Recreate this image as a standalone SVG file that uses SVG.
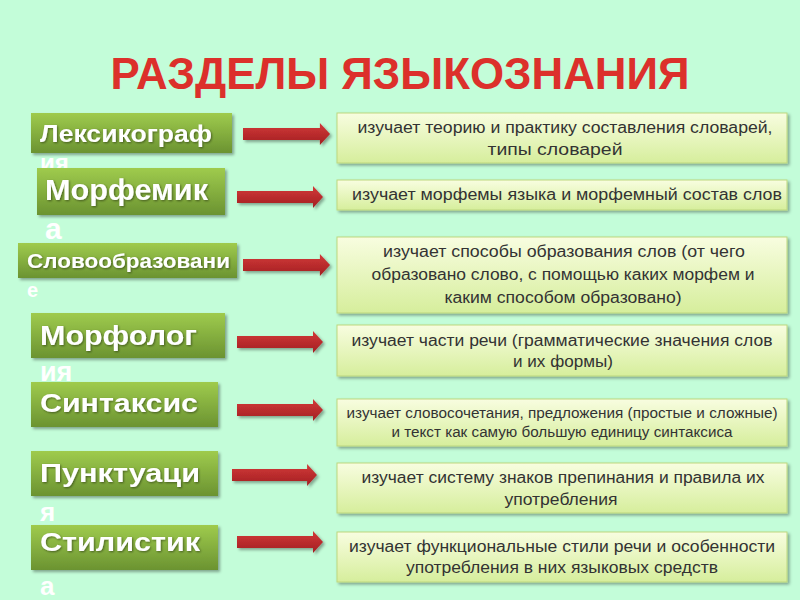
<svg xmlns="http://www.w3.org/2000/svg" xmlns:xlink="http://www.w3.org/1999/xlink" width="800" height="600" viewBox="0 0 800 600">
<defs>
<linearGradient id="gGreen" x1="0" y1="0" x2="0" y2="1">
<stop offset="0" stop-color="#9fcb4d"/>
<stop offset="1" stop-color="#6b9331"/>
</linearGradient>
<linearGradient id="gLight" x1="0" y1="0" x2="0" y2="1">
<stop offset="0" stop-color="#f8fde0"/>
<stop offset="1" stop-color="#d6ee9c"/>
</linearGradient>
<linearGradient id="gRed" x1="0" y1="0" x2="0" y2="1">
<stop offset="0" stop-color="#d23a38"/>
<stop offset="1" stop-color="#a31e22"/>
</linearGradient>
<filter id="sh" x="-10%" y="-20%" width="120%" height="150%">
<feDropShadow dx="2" dy="2" stdDeviation="1.5" flood-color="#000" flood-opacity="0.35"/>
</filter>
<filter id="tsh" x="-10%" y="-20%" width="120%" height="150%">
<feDropShadow dx="1" dy="1" stdDeviation="0.8" flood-color="#000" flood-opacity="0.45"/>
</filter>
<path id="arr" d="M0,-6 H-10 V-6 Z"/>
<path id="arrow" d="M0,-6 H76 V-11 L86,0 L76,11 V6 H0 Z"/>
</defs>
<style>
.bg{fill:#c3fdd9}
.gbox{fill:url(#gGreen);filter:url(#sh)}
.lbox{fill:url(#gLight);stroke:#bdd77f;stroke-width:1;filter:url(#sh)}
.lbl{font-family:"Liberation Sans",Arial,sans-serif;font-weight:bold;fill:#ffffff;filter:url(#tsh)}
.ov{font-family:"Liberation Sans",Arial,sans-serif;font-weight:bold;fill:#ffffff}
.desc{font-family:"Liberation Sans",Arial,sans-serif;font-size:16px;fill:#333333;text-anchor:middle}
.sm{font-size:14px}
.title{font-family:"Liberation Sans",Arial,sans-serif;font-weight:bold;font-size:44px;fill:#dc302b;text-anchor:middle}
.ar{fill:url(#gRed);filter:url(#sh)}
</style>
<rect class="bg" x="0" y="0" width="800" height="600"/>
<text class="title" x="400" y="89" textLength="579" lengthAdjust="spacingAndGlyphs">РАЗДЕЛЫ ЯЗЫКОЗНАНИЯ</text>

<g id="n1">
<rect class="gbox" x="31" y="113" width="201" height="40"/>
<text class="lbl" x="40" y="142" font-size="24" textLength="172" lengthAdjust="spacingAndGlyphs">Лексикограф</text>
<text class="ov" x="40" y="171" font-size="24">ия</text>
</g>
<g id="n2">
<rect class="gbox" x="37" y="168" width="188" height="47"/>
<text class="lbl" x="45" y="200" font-size="30" textLength="163" lengthAdjust="spacingAndGlyphs">Морфемик</text>
<text class="ov" x="45" y="239" font-size="30">а</text>
</g>
<g id="n3">
<rect class="gbox" x="18" y="243" width="219" height="35"/>
<text class="lbl" x="27" y="268" font-size="20" textLength="203" lengthAdjust="spacingAndGlyphs">Словообразовани</text>
<text class="ov" x="27" y="297" font-size="20">е</text>
</g>
<g id="n4">
<rect class="gbox" x="31" y="313" width="194" height="45"/>
<text class="lbl" x="40" y="345" font-size="27" textLength="157" lengthAdjust="spacingAndGlyphs">Морфолог</text>
<text class="ov" x="40" y="381" font-size="27">ия</text>
</g>
<g id="n5">
<rect class="gbox" x="31" y="382" width="187" height="45"/>
<text class="lbl" x="40" y="412" font-size="26" textLength="158" lengthAdjust="spacingAndGlyphs">Синтаксис</text>
</g>
<g id="n6">
<rect class="gbox" x="31" y="451" width="187" height="45"/>
<text class="lbl" x="40" y="482" font-size="26" textLength="160" lengthAdjust="spacingAndGlyphs">Пунктуаци</text>
<text class="ov" x="40" y="521" font-size="26">я</text>
</g>
<g id="n7">
<rect class="gbox" x="31" y="525" width="187" height="45"/>
<text class="lbl" x="40" y="551" font-size="26" textLength="160" lengthAdjust="spacingAndGlyphs">Стилистик</text>
<text class="ov" x="40" y="595" font-size="26">а</text>
</g>

<g id="d1">
<rect class="lbox" x="337" y="113" width="450" height="50"/>
<text class="desc" x="565" y="133" textLength="415" lengthAdjust="spacingAndGlyphs">изучает теорию и практику составления словарей,</text>
<text class="desc" x="555" y="155" textLength="135" lengthAdjust="spacingAndGlyphs">типы словарей</text>
</g>
<g id="d2">
<rect class="lbox" x="337" y="180" width="450" height="30"/>
<text class="desc" x="567" y="200" textLength="430" lengthAdjust="spacingAndGlyphs">изучает морфемы языка и морфемный состав слов</text>
</g>
<g id="d3">
<rect class="lbox" x="337" y="237" width="450" height="76"/>
<text class="desc" x="564" y="257" textLength="362" lengthAdjust="spacingAndGlyphs">изучает способы образования слов (от чего</text>
<text class="desc" x="563" y="280" textLength="383" lengthAdjust="spacingAndGlyphs">образовано слово, с помощью каких морфем и</text>
<text class="desc" x="563" y="303" textLength="237" lengthAdjust="spacingAndGlyphs">каким способом образовано)</text>
</g>
<g id="d4">
<rect class="lbox" x="337" y="325" width="450" height="51"/>
<text class="desc" x="562" y="346" textLength="421" lengthAdjust="spacingAndGlyphs">изучает части речи (грамматические значения слов</text>
<text class="desc" x="563" y="367" textLength="100" lengthAdjust="spacingAndGlyphs">и их формы)</text>
</g>
<g id="d5">
<rect class="lbox" x="337" y="399" width="450" height="47"/>
<text class="desc sm" x="562" y="418" textLength="431" lengthAdjust="spacingAndGlyphs">изучает словосочетания, предложения (простые и сложные)</text>
<text class="desc sm" x="562" y="437" textLength="341" lengthAdjust="spacingAndGlyphs">и текст как самую большую единицу синтаксиса</text>
</g>
<g id="d6">
<rect class="lbox" x="337" y="463" width="450" height="50"/>
<text class="desc" x="563" y="483" textLength="403" lengthAdjust="spacingAndGlyphs">изучает систему знаков препинания и правила их</text>
<text class="desc" x="561" y="505" textLength="113" lengthAdjust="spacingAndGlyphs">употребления</text>
</g>
<g id="d7">
<rect class="lbox" x="337" y="532" width="450" height="50"/>
<text class="desc" x="562" y="552" textLength="426" lengthAdjust="spacingAndGlyphs">изучает функциональные стили речи и особенности</text>
<text class="desc" x="562" y="573" textLength="312" lengthAdjust="spacingAndGlyphs">употребления в них языковых средств</text>
</g>

<g id="connectors">
<use xlink:href="#arrow" href="#arrow" class="ar" transform="translate(243,134) scale(1.012,1)"/>
<use xlink:href="#arrow" href="#arrow" class="ar" transform="translate(237,197)"/>
<use xlink:href="#arrow" href="#arrow" class="ar" transform="translate(243,265) scale(1.012,1)"/>
<use xlink:href="#arrow" href="#arrow" class="ar" transform="translate(237,342)"/>
<use xlink:href="#arrow" href="#arrow" class="ar" transform="translate(237,410)"/>
<use xlink:href="#arrow" href="#arrow" class="ar" transform="translate(232,475) scale(0.988,1)"/>
<use xlink:href="#arrow" href="#arrow" class="ar" transform="translate(237,542)"/>
</g>
</svg>
